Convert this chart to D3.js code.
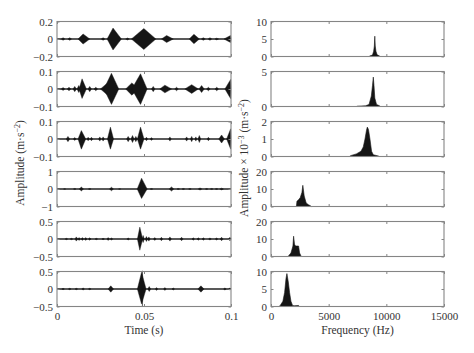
<!DOCTYPE html>
<html><head><meta charset="utf-8">
<script src="https://cdn.jsdelivr.net/npm/d3@7"></script>
<style>
html,body{margin:0;padding:0;background:#fff;}
svg{display:block;}
text{font-family:"Liberation Serif","DejaVu Serif",serif;fill:#333;}
</style></head>
<body>
<svg id="chart" width="474" height="353"></svg>
<script>
// ---------- data ----------
const timeTicks = [0, 0.05, 0.1];
const timeTickLabels = ["0", "0.05", "0.1"];
const freqTicks = [0, 5000, 10000, 15000];
const freqTickLabels = ["0", "5000", "10000", "15000"];

const timeRanges = [0.2, 0.1, 0.1, 1, 0.5, 0.5];
const timeYTicks = [[-0.2,0,0.2],[-0.1,0,0.1],[-0.1,0,0.1],[-1,0,1],[-0.5,0,0.5],[-0.5,0,0.5]];
const timeYTickLabels = [["\u22120.2","0","0.2"],["\u22120.1","0","0.1"],["\u22120.1","0","0.1"],["\u22121","0","1"],["\u22120.5","0","0.5"],["\u22120.5","0","0.5"]];

const freqMax = [10, 5, 2, 20, 20, 10];
const freqYTicks = [[0,5,10],[0,5],[0,1,2],[0,10,20],[0,10,20],[0,5,10]];

// bursts of the time signals: [start (s), peak (s), end (s), upper amplitude, lower amplitude]
const bursts1 = [
  [0.0025,0.0035,0.0045,0.015],[0.0063,0.0073,0.0083,0.015],[0.0121,0.0150,0.0188,0.057],
  [0.0255,0.0265,0.0275,0.015],[0.0288,0.0322,0.0370,0.125],[0.0395,0.0405,0.0415,0.012],
  [0.0428,0.0499,0.0568,0.12],[0.0601,0.0630,0.0668,0.04],[0.0760,0.0787,0.0818,0.053],
  [0.0830,0.0841,0.0852,0.015],[0.0869,0.0879,0.0889,0.015],[0.0908,0.0918,0.0928,0.01],
  [0.0960,0.0997,0.1,0.04]
];
const bursts2 = [
  [0.0025,0.0035,0.0045,0.008],[0.0059,0.0069,0.0079,0.01],[0.0092,0.0102,0.0112,0.015],
  [0.0115,0.0125,0.0135,0.02],[0.0127,0.0144,0.0169,0.058,0.054],[0.0178,0.0188,0.0198,0.015],
  [0.0213,0.0223,0.0233,0.01],[0.0250,0.0285,0.0330,0.03],[0.0270,0.0313,0.0355,0.09,0.088],
  [0.0395,0.0430,0.0470,0.035],[0.0430,0.0480,0.0518,0.087,0.088],[0.0543,0.0553,0.0563,0.015],
  [0.0591,0.0620,0.0658,0.022],[0.0677,0.0687,0.0697,0.01],[0.0735,0.0774,0.0812,0.025],
  [0.0816,0.0831,0.0846,0.02],[0.0860,0.0870,0.0880,0.01],[0.0908,0.0918,0.0928,0.01],
  [0.0965,0.0998,0.1,0.055]
];
const bursts3 = [
  [0.0053,0.0063,0.0073,0.015],[0.0094,0.0102,0.0110,0.008],[0.0121,0.0140,0.0165,0.048,0.058],
  [0.0172,0.0179,0.0186,0.01],[0.0191,0.0198,0.0205,0.01],[0.0239,0.0246,0.0253,0.012],
  [0.0258,0.0265,0.0272,0.012],[0.0290,0.0307,0.0325,0.068,0.058],[0.0400,0.0409,0.0418,0.015],
  [0.0425,0.0434,0.0443,0.02],[0.0445,0.0453,0.0461,0.015],[0.0462,0.0480,0.0500,0.068,0.058],
  [0.0507,0.0514,0.0521,0.01],[0.0536,0.0543,0.0550,0.008],[0.0642,0.0649,0.0656,0.012],
  [0.0738,0.0745,0.0752,0.012],[0.0767,0.0774,0.0781,0.015],[0.0792,0.0798,0.0804,0.012],
  [0.0810,0.0818,0.0826,0.02],[0.0863,0.0870,0.0877,0.01],[0.0930,0.0946,0.0962,0.023],
  [0.0975,0.0998,0.1,0.058]
];
const bursts4 = [
  [0.0038,0.0044,0.0050,0.02],[0.0095,0.0102,0.0109,0.03],[0.0128,0.0140,0.0152,0.11],
  [0.0181,0.0188,0.0195,0.03],[0.0302,0.0313,0.0324,0.1],[0.0354,0.0360,0.0366,0.02],
  [0.0461,0.0486,0.0518,0.62,0.54],[0.0536,0.0543,0.0550,0.03],[0.0645,0.0658,0.0671,0.12],
  [0.0690,0.0697,0.0704,0.03],[0.0719,0.0726,0.0733,0.03],[0.0757,0.0764,0.0771,0.03],
  [0.0812,0.0822,0.0832,0.06],[0.0853,0.0860,0.0867,0.03],[0.0882,0.0889,0.0896,0.03],
  [0.0910,0.0917,0.0924,0.03],[0.0936,0.0946,0.0956,0.05]
];
const bursts5 = [
  [0.0047,0.0054,0.0061,0.02],[0.0076,0.0083,0.0090,0.02],[0.0103,0.0111,0.0119,0.06],
  [0.0120,0.0127,0.0134,0.04],[0.0139,0.0146,0.0153,0.04],[0.0158,0.0165,0.0172,0.04],
  [0.0181,0.0188,0.0195,0.035],[0.0219,0.0226,0.0233,0.02],[0.0258,0.0265,0.0272,0.02],
  [0.0287,0.0294,0.0301,0.04],[0.0306,0.0313,0.0320,0.03],[0.0402,0.0409,0.0416,0.03],
  [0.0462,0.0476,0.0492,0.34,0.32],[0.0488,0.0495,0.0502,0.1],[0.0507,0.0514,0.0521,0.07],
  [0.0521,0.0528,0.0535,0.06],[0.0555,0.0562,0.0569,0.04],[0.0593,0.0600,0.0607,0.05],
  [0.0641,0.0649,0.0657,0.06],[0.0708,0.0716,0.0724,0.05],[0.0776,0.0783,0.0790,0.035],
  [0.0805,0.0812,0.0819,0.035],[0.0834,0.0841,0.0848,0.035],[0.0872,0.0879,0.0886,0.03],
  [0.0910,0.0917,0.0924,0.03],[0.0938,0.0946,0.0954,0.05],[0.0986,0.0994,0.1,0.05]
];
const bursts6 = [
  [0.0028,0.0035,0.0042,0.02],[0.0066,0.0073,0.0080,0.02],[0.0104,0.0111,0.0118,0.02],
  [0.0143,0.0150,0.0157,0.03],[0.0181,0.0188,0.0195,0.02],[0.0294,0.0309,0.0325,0.09],
  [0.0462,0.0486,0.0512,0.48,0.43],[0.0488,0.0491,0.0494,0.52,0.5],[0.0522,0.0530,0.0538,0.07],
  [0.0565,0.0572,0.0579,0.04],[0.0613,0.0620,0.0627,0.04],[0.0661,0.0668,0.0675,0.03],
  [0.0810,0.0827,0.0845,0.09],[0.0958,0.0965,0.0972,0.03],[0.0987,0.0994,0.1,0.03]
];
const timeBursts = [bursts1, bursts2, bursts3, bursts4, bursts5, bursts6];

// spectra: [frequency (Hz), amplitude x 1e-3]
const spectrum1 = [[8500,0],[8600,0.2],[8800,0.4],[8900,1.5],[8960,3],[9000,5.8],[9040,3],[9100,1.5],[9200,0.5],[9380,0.2],[9450,0]];
const spectrum2 = [[7400,0],[7500,0.05],[8200,0.1],[8500,0.3],[8700,1.5],[8800,3],[8870,4.2],[8930,3],[9000,1.2],[9150,0.3],[9400,0.1],[9500,0]];
const spectrum3 = [[6800,0],[6900,0.05],[7400,0.15],[7800,0.3],[8000,0.55],[8150,1.0],[8280,1.5],[8350,1.68],[8450,1.55],[8580,1.0],[8720,0.3],[8870,0.1],[9300,0.03],[9400,0]];
const spectrum4 = [[2200,0],[2250,3],[2400,4],[2530,5],[2680,8],[2760,12.1],[2880,6],[3050,2],[3250,1],[3450,0.3],[3500,0]];
const spectrum5 = [[1500,0],[1530,0.5],[1730,2],[1900,6],[1960,11.6],[2040,7],[2130,6],[2250,6],[2390,6],[2480,2],[2590,0.5],[2650,0]];
const spectrum6 = [[700,0],[800,0.3],[1030,1.5],[1180,4],[1300,8],[1380,9.4],[1500,7],[1610,4],[1730,1.5],[1870,0.3],[2000,0.2],[2390,0.3],[2450,0]];
const spectra = [spectrum1, spectrum2, spectrum3, spectrum4, spectrum5, spectrum6];

// ---------- layout ----------
const svg = d3.select("#chart");
const L = {x0: 57, x1: 231}, R = {x0: 271, x1: 444};
const top0 = 21.5, step = 50, ph = 35;
const boxColor = "#858585", ink = "#151515";

const xT = d3.scaleLinear().domain([0, 0.1]).range([L.x0, L.x1]);
const xF = d3.scaleLinear().domain([0, 15000]).range([R.x0, R.x1]);

function styleAxis(g) {
  g.select(".domain").remove();
  g.selectAll(".tick line").attr("stroke", boxColor);
  g.selectAll(".tick text").attr("font-size", 11).attr("fill", "#333")
   .style("font-family", '"Liberation Serif", serif');
}

for (let i = 0; i < 6; i++) {
  const yTop = top0 + i * step, yBot = yTop + ph;
  const last = i === 5;

  // ---- left: time signal ----
  const r = timeRanges[i];
  const yT = d3.scaleLinear().domain([-r, r]).range([yBot, yTop]);
  const gL = svg.append("g");
  gL.append("line").attr("x1", L.x0).attr("x2", L.x1).attr("y1", yT(0)).attr("y2", yT(0))
    .attr("stroke", "#222").attr("stroke-width", 1.5);
  const area = d3.area()
    .x(d => xT(d.t)).y0(d => yT(-d.lo)).y1(d => yT(d.hi)).curve(d3.curveLinear);
  gL.selectAll("path.burst").data(timeBursts[i]).join("path").attr("class", "burst")
    .attr("d", b => {
      const up = b[3], dn = b.length > 4 ? b[4] : b[3];
      return area([{t: b[0], hi: 0.006 * r, lo: 0.006 * r}, {t: b[1], hi: up, lo: dn}, {t: b[2], hi: 0.006 * r, lo: 0.006 * r}]);
    })
    .attr("fill", ink).attr("stroke", ink).attr("stroke-width", 0.4);
  gL.append("g").attr("transform", `translate(${L.x0},0)`)
    .call(d3.axisLeft(yT).tickValues(timeYTicks[i]).tickFormat((d, k) => timeYTickLabels[i][k]).tickSizeInner(-2.5).tickSizeOuter(0).tickPadding(4))
    .call(styleAxis);
  gL.append("g").attr("transform", `translate(${L.x1},0)`)
    .call(d3.axisRight(yT).tickValues(timeYTicks[i]).tickFormat("").tickSizeInner(-2.5).tickSizeOuter(0))
    .call(styleAxis);
  gL.append("g").attr("transform", `translate(0,${yBot})`)
    .call(d3.axisBottom(xT).tickValues(timeTicks).tickFormat((d, k) => last ? timeTickLabels[k] : "").tickSizeInner(-2.5).tickSizeOuter(0).tickPadding(6))
    .call(styleAxis);
  gL.append("g").attr("transform", `translate(0,${yTop})`)
    .call(d3.axisTop(xT).tickValues(timeTicks).tickFormat("").tickSizeInner(-2.5).tickSizeOuter(0))
    .call(styleAxis);
  gL.append("rect").attr("x", L.x0).attr("y", yTop).attr("width", L.x1 - L.x0).attr("height", ph)
    .attr("fill", "none").attr("stroke", boxColor).attr("stroke-width", 1.1);

  // ---- right: spectrum ----
  const yF = d3.scaleLinear().domain([0, freqMax[i]]).range([yBot, yTop]);
  const gR = svg.append("g");
  gR.append("path").datum(spectra[i])
    .attr("d", d3.area().x(d => xF(d[0])).y0(yF(0)).y1(d => yF(d[1])))
    .attr("fill", ink).attr("stroke", ink).attr("stroke-width", 0.6);
  gR.append("g").attr("transform", `translate(${R.x0},0)`)
    .call(d3.axisLeft(yF).tickValues(freqYTicks[i]).tickFormat(d3.format("d")).tickSizeInner(-2.5).tickSizeOuter(0).tickPadding(4))
    .call(styleAxis);
  gR.append("g").attr("transform", `translate(${R.x1},0)`)
    .call(d3.axisRight(yF).tickValues(freqYTicks[i]).tickFormat("").tickSizeInner(-2.5).tickSizeOuter(0))
    .call(styleAxis);
  gR.append("g").attr("transform", `translate(0,${yBot})`)
    .call(d3.axisBottom(xF).tickValues(freqTicks).tickFormat((d, k) => last ? freqTickLabels[k] : "").tickSizeInner(-2.5).tickSizeOuter(0).tickPadding(6))
    .call(styleAxis);
  gR.append("g").attr("transform", `translate(0,${yTop})`)
    .call(d3.axisTop(xF).tickValues(freqTicks).tickFormat("").tickSizeInner(-2.5).tickSizeOuter(0))
    .call(styleAxis);
  gR.append("rect").attr("x", R.x0).attr("y", yTop).attr("width", R.x1 - R.x0).attr("height", ph)
    .attr("fill", "none").attr("stroke", boxColor).attr("stroke-width", 1.1);
}

// ---- axis titles ----
svg.append("text").attr("x", (L.x0 + L.x1) / 2).attr("y", 334).attr("text-anchor", "middle")
  .attr("font-size", 11.5).text("Time (s)");
svg.append("text").attr("x", (R.x0 + R.x1) / 2).attr("y", 334).attr("text-anchor", "middle")
  .attr("font-size", 11.5).text("Frequency (Hz)");

const t1 = svg.append("text").attr("transform", "translate(24,163) rotate(-90)")
  .attr("text-anchor", "middle").attr("font-size", 11.5);
t1.append("tspan").text("Amplitude (m\u00B7s");
t1.append("tspan").attr("dy", -4).attr("font-size", 8).text("\u22122");
t1.append("tspan").attr("dy", 4).text(")");

const t2 = svg.append("text").attr("transform", "translate(248,158) rotate(-90)")
  .attr("text-anchor", "middle").attr("font-size", 11.5);
t2.append("tspan").text("Amplitude \u00D7 10");
t2.append("tspan").attr("dy", -4).attr("font-size", 8).text("\u22123");
t2.append("tspan").attr("dy", 4).text(" (m\u00B7s");
t2.append("tspan").attr("dy", -4).attr("font-size", 8).text("\u22122");
t2.append("tspan").attr("dy", 4).text(")");
</script>
</body></html>
